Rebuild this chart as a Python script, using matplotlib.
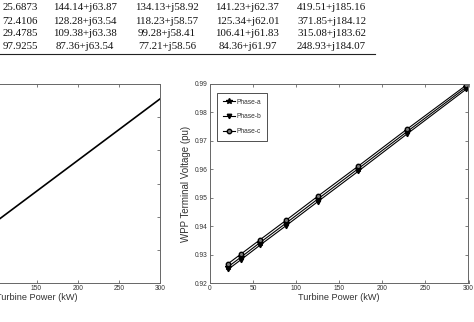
import matplotlib

matplotlib.use("Agg")
import matplotlib.pyplot as plt

# table fragment at the top (first column is cut off in the source)
table_rows = [
    ["25.6873", "144.14+j63.87", "134.13+j58.92", "141.23+j62.37", "419.51+j185.16"],
    ["72.4106", "128.28+j63.54", "118.23+j58.57", "125.34+j62.01", "371.85+j184.12"],
    ["29.4785", "109.38+j63.38", "99.28+j58.41", "106.41+j61.83", "315.08+j183.62"],
    ["97.9255", "87.36+j63.54", "77.21+j58.56", "84.36+j61.97", "248.93+j184.07"],
]

# left panel (only partly visible)
left_power = [105, 300]
left_value = [1.93, 5.55]

# right panel: WPP terminal voltage per phase
power_kw = [21, 36, 58, 88, 125, 172, 229, 297]
phase_a = [0.9257, 0.9291, 0.9342, 0.9410, 0.9495, 0.9602, 0.9733, 0.9888]
phase_b = [0.9248, 0.9282, 0.9333, 0.9401, 0.9486, 0.9593, 0.9725, 0.9881]
phase_c = [0.9268, 0.9302, 0.9352, 0.9420, 0.9505, 0.9611, 0.9742, 0.9895]

W, H = 474, 322
plt.rcParams["font.family"] = ["Liberation Sans", "DejaVu Sans"]
TXT = "#333333"
SPINE = "#666666"

fig = plt.figure(figsize=(W / 100, H / 100), dpi=100)


def px(x, y):
    return x / W, 1 - y / H


# table text
col_x = [38, 85, 167, 247.5, 331.5]
row_y = [7.5, 21.0, 34.0, 46.8]
for r, row in enumerate(table_rows):
    for c, cell in enumerate(row):
        fx, fy = px(col_x[c], row_y[r])
        fig.text(fx, fy, cell, ha="right" if c == 0 else "center", va="center",
                 fontsize=7.8, family="Liberation Serif", color="#111111")
x0, yr = px(0, 53.5)
x1, _ = px(375, 53.5)
fig.add_artist(plt.Line2D([x0, x1], [yr, yr], color="#222222", lw=0.8))


def style(ax):
    for s in ax.spines.values():
        s.set_color(SPINE)
        s.set_linewidth(0.7)
    ax.tick_params(direction="in", top=True, right=True, length=2.5, width=0.6,
                   color=SPINE, labelsize=4.8, labelcolor=TXT, pad=1.5)


# left axes (mostly off-canvas)
axl = fig.add_axes([-87 / W, (H - 283) / H, 247 / W, 199 / H])
axl.plot(left_power, left_value, color="black", lw=1.2)
axl.set_xlim(0, 300)
axl.set_ylim(0, 6)
axl.set_xticks(range(0, 301, 50))
axl.set_yticks(range(0, 7))
style(axl)
axl.set_xlabel("Turbine Power (kW)", fontsize=6.6, color=TXT, labelpad=1)

# right axes
axr = fig.add_axes([210 / W, (H - 283) / H, 258.5 / W, 199 / H])
axr.plot(power_kw, phase_a, color="black", lw=0.8, marker="*", ms=3.8, label="Phase-a")
axr.plot(power_kw, phase_b, color="black", lw=0.8, marker="v", ms=3.2, label="Phase-b")
axr.plot(power_kw, phase_c, color="black", lw=0.8, marker="o", ms=3.2, mfc="#777777",
         label="Phase-c")
axr.set_xlim(0, 300)
axr.set_ylim(0.92, 0.99)
axr.set_xticks(range(0, 301, 50))
axr.set_yticks([0.92, 0.93, 0.94, 0.95, 0.96, 0.97, 0.98, 0.99])
axr.set_yticklabels([f"{v:.2f}" for v in axr.get_yticks()])
style(axr)
axr.set_xlabel("Turbine Power (kW)", fontsize=6.6, color=TXT, labelpad=1)
axr.set_ylabel("WPP Terminal Voltage (pu)", fontsize=7, color=TXT, labelpad=3)
leg = axr.legend(loc="upper left", bbox_to_anchor=(0.026, 0.956), borderaxespad=0,
                 fontsize=4.8, frameon=True, fancybox=False, handlelength=1.8,
                 handletextpad=0.3, labelspacing=1.15, borderpad=0.9)
leg.get_frame().set_edgecolor("black")
leg.get_frame().set_linewidth(0.6)
for t in leg.get_texts():
    t.set_color(TXT)

fig.savefig("out.png", dpi=100)
